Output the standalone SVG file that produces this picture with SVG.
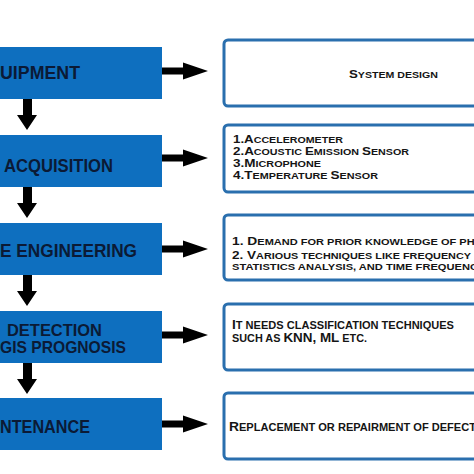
<svg xmlns="http://www.w3.org/2000/svg" width="474" height="474" viewBox="0 0 474 474">
<style>
.blue{fill:#0e6fbf;}
.lbl{font-family:"Liberation Sans",Arial,sans-serif;font-weight:bold;font-size:18px;fill:#0b1a35;}
.wbox{fill:#fff;stroke:#2a6fae;stroke-width:3;}
.desc{font-family:"Liberation Sans",Arial,sans-serif;font-weight:bold;font-size:9.2px;fill:#151515;}
.b{font-size:11.5px;}
.d4{font-size:10.5px;}
.d4 .b{font-size:13px;}
.d5{font-size:10px;}
.d5 .b{font-size:12.5px;}
.arr{fill:#000;}
</style>
<rect width="474" height="474" fill="#fff"/>
<g id="connectors">
<path class="arr" d="M23,99 H32 V115 H37 L27,130 L17,115 H23 Z"/>
<path class="arr" d="M23,187 H32 V203 H37 L27,218 L17,203 H23 Z"/>
<path class="arr" d="M23,275 H32 V291 H37 L27,306 L17,291 H23 Z"/>
<path class="arr" d="M23,363 H32 V379 H37 L27,394 L17,379 H23 Z"/>
<path class="arr" d="M162,67.5 H183 V62.5 L208,71 L183,79.5 V74.5 H162 Z"/>
<path class="arr" d="M162,154.5 H183 V149.5 L208,158 L183,166.5 V161.5 H162 Z"/>
<path class="arr" d="M162,245.5 H183 V240.5 L208,249 L183,257.5 V252.5 H162 Z"/>
<path class="arr" d="M162,331.5 H183 V326.5 L208,335 L183,343.5 V338.5 H162 Z"/>
<path class="arr" d="M162,420.5 H183 V415.5 L208,424 L183,432.5 V427.5 H162 Z"/>
</g>
<g id="equipment">
<rect class="blue" x="-5" y="47" width="167" height="52"/>
<text class="lbl" x="0" y="79" textLength="80" lengthAdjust="spacingAndGlyphs">UIPMENT</text>
</g>
<g id="acquisition">
<rect class="blue" x="-5" y="135" width="167" height="52"/>
<text class="lbl" x="4" y="172" textLength="109" lengthAdjust="spacingAndGlyphs">ACQUISITION</text>
</g>
<g id="engineering">
<rect class="blue" x="-5" y="223" width="167" height="52"/>
<text class="lbl" x="0" y="257" textLength="137" lengthAdjust="spacingAndGlyphs">E ENGINEERING</text>
</g>
<g id="detection">
<rect class="blue" x="-5" y="311" width="167" height="52"/>
<text class="lbl" x="7" y="336" style="font-size:16.5px" textLength="95" lengthAdjust="spacingAndGlyphs">DETECTION</text>
<text class="lbl" x="0" y="353" style="font-size:16.5px" textLength="126" lengthAdjust="spacingAndGlyphs">GIS PROGNOSIS</text>
</g>
<g id="maintenance">
<rect class="blue" x="-5" y="398" width="167" height="52"/>
<text class="lbl" x="0" y="433" textLength="90" lengthAdjust="spacingAndGlyphs">NTENANCE</text>
</g>
<g id="system-design">
<rect class="wbox" x="224" y="40" width="260" height="66" rx="4"/>
<text class="desc" x="349" y="78" textLength="89" lengthAdjust="spacingAndGlyphs"><tspan class="b">S</tspan>YSTEM DESIGN</text>
</g>
<g id="sensors">
<rect class="wbox" x="224" y="125" width="260" height="67" rx="4"/>
<text class="desc" x="233" y="143" textLength="110" lengthAdjust="spacingAndGlyphs"><tspan class="b">1.A</tspan>CCELEROMETER</text>
<text class="desc" x="233" y="155" textLength="176" lengthAdjust="spacingAndGlyphs"><tspan class="b">2.A</tspan>COUSTIC <tspan class="b">E</tspan>MISSION <tspan class="b">S</tspan>ENSOR</text>
<text class="desc" x="233" y="167" textLength="88" lengthAdjust="spacingAndGlyphs"><tspan class="b">3.M</tspan>ICROPHONE</text>
<text class="desc" x="233" y="179" textLength="145" lengthAdjust="spacingAndGlyphs"><tspan class="b">4.T</tspan>EMPERATURE <tspan class="b">S</tspan>ENSOR</text>
</g>
<g id="features">
<rect class="wbox" x="224" y="215" width="260" height="65" rx="4"/>
<text class="desc" x="232" y="245" textLength="250" lengthAdjust="spacingAndGlyphs"><tspan class="b">1. D</tspan>EMAND FOR PRIOR KNOWLEDGE OF PHY</text>
<text class="desc" x="232" y="259" textLength="239" lengthAdjust="spacingAndGlyphs"><tspan class="b">2. V</tspan>ARIOUS TECHNIQUES LIKE FREQUENCY</text>
<text class="desc" x="232" y="270" textLength="246" lengthAdjust="spacingAndGlyphs">STATISTICS ANALYSIS, AND TIME FREQUENC</text>
</g>
<g id="classification">
<rect class="wbox" x="224" y="304" width="260" height="66" rx="4"/>
<text class="desc d4" x="232" y="329" textLength="222" lengthAdjust="spacingAndGlyphs"><tspan class="b">I</tspan>T NEEDS CLASSIFICATION TECHNIQUES</text>
<text class="desc d4" x="232" y="342" textLength="135" lengthAdjust="spacingAndGlyphs">SUCH AS <tspan class="b">KNN, ML</tspan> ETC.</text>
</g>
<g id="replacement">
<rect class="wbox" x="224" y="393" width="260" height="66" rx="4"/>
<text class="desc d5" x="229" y="431" textLength="247" lengthAdjust="spacingAndGlyphs"><tspan class="b">R</tspan>EPLACEMENT OR REPAIRMENT OF DEFECT</text>
</g>
</svg>
